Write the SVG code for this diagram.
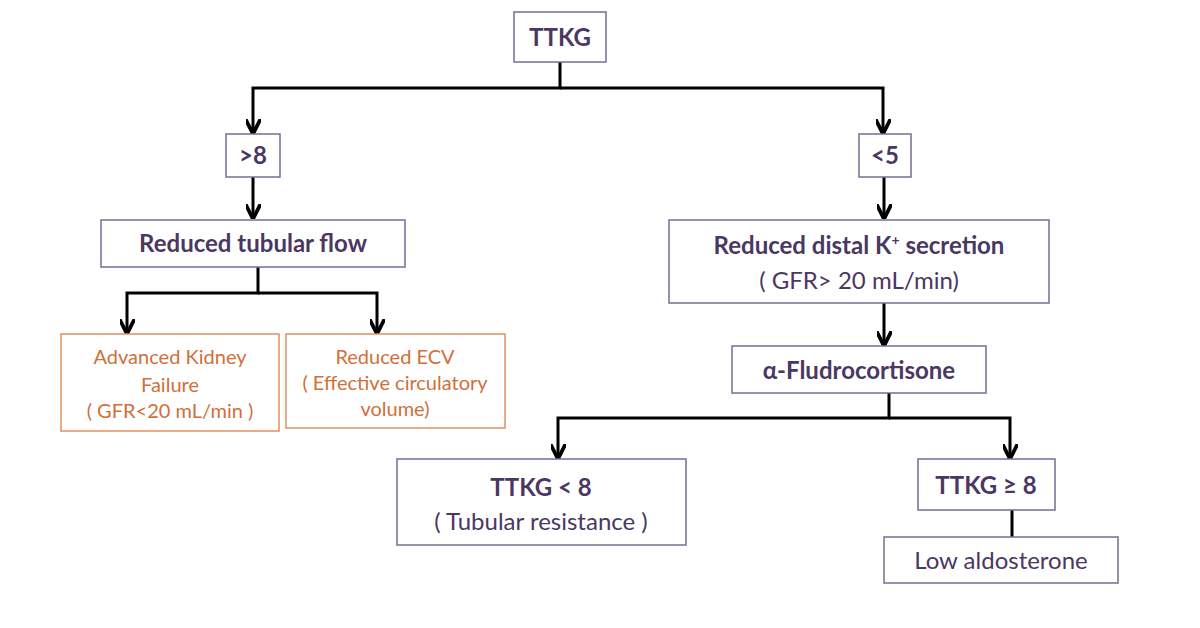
<svg xmlns="http://www.w3.org/2000/svg" width="1200" height="628" viewBox="0 0 1200 628">
<style>
text{font-family:Lato,"Open Sans",sans-serif;text-anchor:middle}
.p{fill:#fff;stroke:#7b6b95;stroke-width:1.5}
.o{fill:#fff;stroke:#e09060;stroke-width:1.5}
.pt{fill:#4b3763;font-size:24px}
.b{font-weight:bold}
.ot{fill:#d0703a;font-size:20px}
.c{stroke:#000;stroke-width:3;fill:none}
</style>
<defs><marker id="a" viewBox="0 0 10 10" refX="8" refY="5" markerWidth="5" markerHeight="5" orient="auto"><path d="M0,0 L10,5 L0,10" fill="none" stroke="#000" stroke-width="2.5"/></marker></defs>
<rect width="1200" height="628" fill="#fff"/>
<g id="connectors">
<path class="c" d="M560,62V88H253V131" marker-end="url(#a)"/>
<path class="c" d="M560,88H883V131" marker-end="url(#a)"/>
<path class="c" d="M253,177V216" marker-end="url(#a)"/>
<path class="c" d="M258,267V293H127V331" marker-end="url(#a)"/>
<path class="c" d="M258,293H377V331" marker-end="url(#a)"/>
<path class="c" d="M884,177V216" marker-end="url(#a)"/>
<path class="c" d="M884,303V343" marker-end="url(#a)"/>
<path class="c" d="M889,393V418H558V456" marker-end="url(#a)"/>
<path class="c" d="M889,418H1010V456" marker-end="url(#a)"/>
<path class="c" d="M1012,510V537"/>
</g>
<g id="n1"><rect class="p" x="514" y="12" width="92" height="50"/><text class="pt b" x="560" y="46">TTKG</text></g>
<g id="n2"><rect class="p" x="226" y="134" width="54" height="43"/><text class="pt b" x="253" y="164">&gt;8</text></g>
<g id="n3"><rect class="p" x="101" y="220" width="304" height="47"/><text class="pt b" x="253" y="252">Reduced tubular flow</text></g>
<g id="n4"><rect class="o" x="61" y="334" width="218" height="97"/><text class="ot" x="170" y="364">Advanced Kidney</text><text class="ot" x="170" y="392">Failure</text><text class="ot" x="170" y="418" font-size="17">( GFR&lt;20 mL/min )</text></g>
<g id="n5"><rect class="o" x="286" y="334" width="219" height="94"/><text class="ot" x="395" y="364">Reduced ECV</text><text class="ot" x="395" y="390" font-size="17">( Effective circulatory</text><text class="ot" x="395" y="416" font-size="17">volume)</text></g>
<g id="n6"><rect class="p" x="859" y="134" width="52" height="43"/><text class="pt b" x="885" y="164">&lt;5</text></g>
<g id="n7"><rect class="p" x="669" y="220" width="380" height="83"/><text class="pt b" x="859" y="254">Reduced distal K<tspan font-size="14" dy="-9">+</tspan><tspan dy="9"> secretion</tspan></text><text class="pt" x="859" y="289">( GFR&gt; 20 mL/min)</text></g>
<g id="n8"><rect class="p" x="732" y="346" width="254" height="47"/><text class="pt b" x="859" y="379">α-Fludrocortisone</text></g>
<g id="n9"><rect class="p" x="397" y="459" width="289" height="86"/><text class="pt b" x="541" y="496">TTKG &lt; 8</text><text class="pt" x="541" y="530">( Tubular resistance )</text></g>
<g id="n10"><rect class="p" x="918" y="459" width="137" height="51"/><text class="pt b" x="986" y="494">TTKG ≥ 8</text></g>
<g id="n11"><rect class="p" x="884" y="537" width="234" height="46"/><text class="pt" x="1001" y="569">Low aldosterone</text></g>
</svg>
